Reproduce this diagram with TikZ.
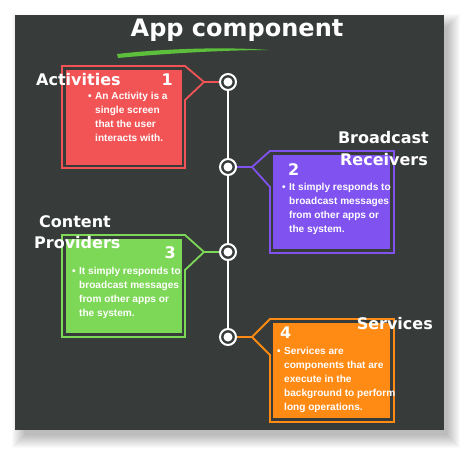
\documentclass[tikz,border=0pt]{standalone}
\usepackage{fontspec}
\setmainfont{Liberation Sans}
\newfontfamily\headfont{DejaVu Sans}
\definecolor{panelgray}{RGB}{55,60,58}
\definecolor{actred}{RGB}{242,84,86}
\definecolor{recpurple}{RGB}{128,82,240}
\definecolor{provgreen}{RGB}{126,216,87}
\definecolor{servorange}{RGB}{255,138,20}
\definecolor{brushgreen}{RGB}{92,190,58}
\newcommand{\bulletlist}[1]{\begin{tabular}[t]{@{}p{7pt}@{}l@{}}\textbullet & #1\end{tabular}}

\begin{document}
\begin{tikzpicture}[x=1pt, y=-1pt,
  head/.style={text=white, inner sep=0, font=\headfont\bfseries\fontsize{16}{20}\selectfont},
  body/.style={text=white, inner sep=0, anchor=base west, font=\bfseries\fontsize{10.1}{14}\selectfont},
  frame/.style={line width=1.8pt, line join=miter},
  link/.style={line width=1.8pt},
  spine/.style={draw=white, line width=1.5pt},
  dot/.style={circle, draw=white, fill=panelgray, line width=2pt, minimum size=16pt, inner sep=0,
    path picture={\fill[white] (path picture bounding box.center) circle (4.5pt);}}]
\useasboundingbox (0,0) rectangle (474,461);
\fill[white] (0,0) rectangle (474,461);
% soft shadow
\foreach \i in {1,...,14}
  \fill[black, opacity=0.018] (26-\i,28-\i) rectangle (446+\i,434+\i);
\fill[panelgray] (15,15) rectangle (444,430);

% title
\node[text=white, inner sep=0, anchor=base, font=\headfont\bfseries\fontsize{24}{28}\selectfont] (title) at (237,36) {App component};
\fill[brushgreen] (117,54) .. controls (170,48) and (230,47) .. (268,50) .. controls (230,50) and (170,53) .. (118,58) -- cycle;

% timeline
\node[dot] (c1) at (228,82) {};
\node[dot] (c2) at (228,167) {};
\node[dot] (c3) at (228,252) {};
\node[dot] (c4) at (228,337) {};
\foreach \a/\b in {c1/c2,c2/c3,c3/c4}
  \draw[spine] (\a.south) -- (\b.north);

\coordinate (t1) at (204,82);
\coordinate (t2) at (252,167);
\coordinate (t3) at (204,252);
\coordinate (t4) at (252,337);

% 1 activities
\draw[frame, actred] (62,66) -- (185,66) -- (t1) -- (185,100) -- (185,168) -- (62,168) -- cycle;
\draw[link, actred] (c1) -- (t1);
\fill[actred] (66,70) rectangle (182,165);
\node[body] (l1) at (88,99) {\bulletlist{An Activity is a\\ & single screen\\ & that the user\\ & interacts with.}};
\node[head, anchor=base west] (h1) at (36,85) {Activities};
\node[head, anchor=base east] (n1) at (173,85) {1};

% 2 broadcast receivers
\draw[frame, recpurple] (394,151) -- (270,151) -- (t2) -- (270,187) -- (270,253) -- (394,253) -- cycle;
\draw[link, recpurple] (c2) -- (t2);
\fill[recpurple] (273,155) rectangle (390,249);
\node[body] (l2) at (282,190.5) {\bulletlist{It simply responds to\\ & broadcast messages\\ & from other apps or\\ & the system.}};
\node[head, anchor=base east] (h2a) at (429,143) {Broadcast};
\node[head, anchor=base east] (h2b) at (428,165) {Receivers};
\node[head, anchor=base west] (n2) at (288,175) {2};

% 3 content providers
\draw[frame, provgreen] (62,235) -- (185,235) -- (t3) -- (185,270) -- (185,337) -- (62,337) -- cycle;
\draw[link, provgreen] (c3) -- (t3);
\fill[provgreen] (66,239) rectangle (182,333);
\node[body] (l3) at (72,274) {\bulletlist{It simply responds to\\ & broadcast messages\\ & from other apps or\\ & the system.}};
\node[head, anchor=base west] (h3a) at (39,227) {Content};
\node[head, anchor=base west] (h3b) at (34,248) {Providers};
\node[head, anchor=base east] (n3) at (176,258) {3};

% 4 services
\draw[frame, servorange] (394,319) -- (270,319) -- (t4) -- (270,355) -- (270,422) -- (394,422) -- cycle;
\draw[link, servorange] (c4) -- (t4);
\fill[servorange] (273,323) rectangle (390,418);
\node[body] (l4) at (277,354) {\bulletlist{Services are\\ & components that are\\ & execute in the\\ & background to perform\\ & long operations.}};
\node[head, anchor=base east] (h4) at (433,329) {Services};
\node[head, anchor=base west] (n4) at (280,338) {4};
\end{tikzpicture}
\end{document}
